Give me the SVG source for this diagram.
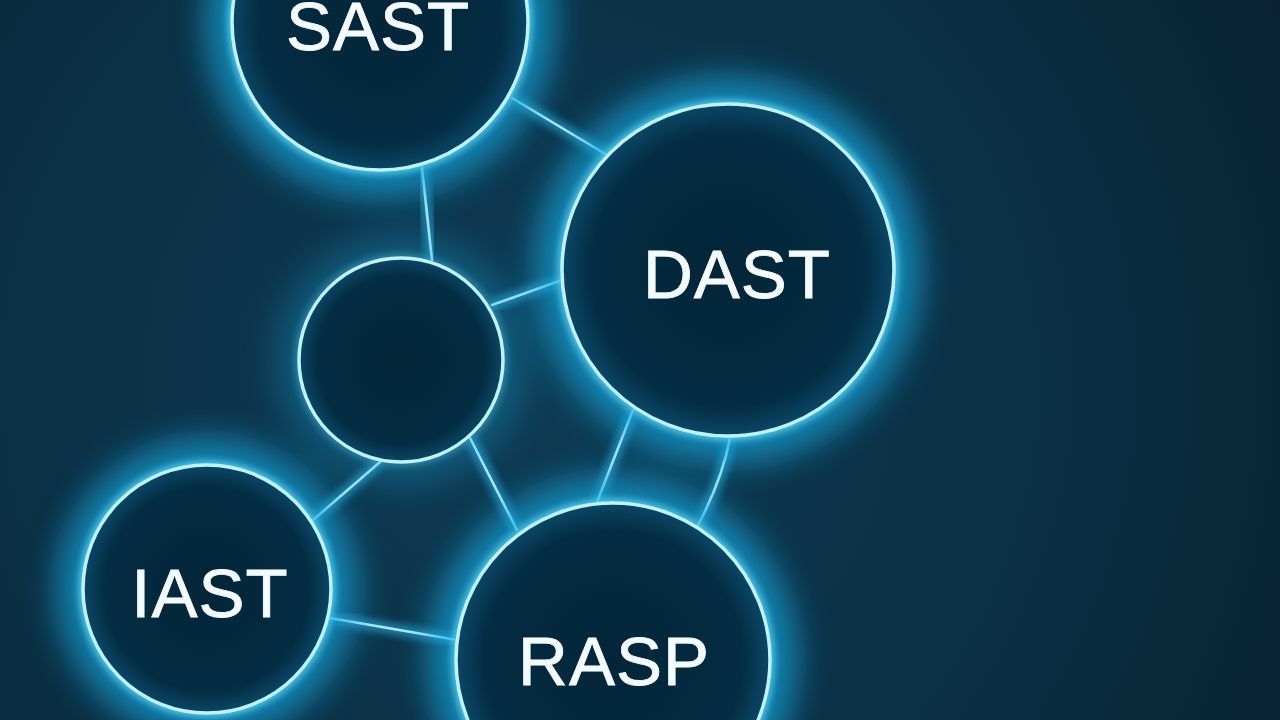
<svg xmlns="http://www.w3.org/2000/svg" width="1280" height="720" viewBox="0 0 1280 720">
<defs>
  <radialGradient id="bg" cx="520" cy="380" r="950" gradientUnits="userSpaceOnUse">
    <stop offset="0" stop-color="#0e3b53"/>
    <stop offset="0.6" stop-color="#0b2e42"/>
    <stop offset="1" stop-color="#081f2e"/>
  </radialGradient>
  <radialGradient id="fill" cx="0.5" cy="0.5" r="0.5">
    <stop offset="0" stop-color="#032538"/>
    <stop offset="0.82" stop-color="#042c42"/>
    <stop offset="1" stop-color="#0a4766"/>
  </radialGradient>
  <filter id="glow" x="-50%" y="-50%" width="200%" height="200%">
    <feGaussianBlur stdDeviation="18"/>
  </filter>
  <filter id="soft" x="-20%" y="-20%" width="140%" height="140%">
    <feGaussianBlur stdDeviation="3.5"/>
  </filter>
  <style>
    .halo{fill:none;stroke:#18a6dc;stroke-width:40;opacity:0.85;filter:url(#glow)}
    .halo2{fill:none;stroke:#55d2f5;stroke-width:9;opacity:0.9;filter:url(#soft)}
    .body{fill:url(#fill)}
    .ring{fill:none;stroke:#bff2ff;stroke-width:3.5}
    .lbl{font-family:"Liberation Sans",Arial,sans-serif;font-size:69px;fill:#f4fbff;stroke:#f4fbff;stroke-width:0.8;text-anchor:middle;letter-spacing:1px}
    .edge{stroke:#b0eaf8;stroke-width:2.6;fill:none;stroke-linecap:round}
    .edgeglow{stroke:#2bb4e6;stroke-width:12;fill:none;opacity:0.55;filter:url(#soft)}
  </style>
</defs>
<rect width="1280" height="720" fill="url(#bg)"/>

<g id="connectors">
  <g>
    <line class="edgeglow" x1="512" y1="98" x2="607" y2="155"/>
    <line class="edgeglow" x1="422" y1="168" x2="432" y2="260"/>
    <line class="edgeglow" x1="492" y1="305" x2="562" y2="280"/>
    <line class="edgeglow" x1="380" y1="462" x2="313" y2="520"/>
    <line class="edgeglow" x1="470" y1="438" x2="517" y2="530"/>
    <line class="edgeglow" x1="633" y1="410" x2="597" y2="502"/>
    <path class="edgeglow" d="M730 438 Q722 480 698 525"/>
    <line class="edgeglow" x1="330" y1="618" x2="457" y2="640"/>
  </g>
  <line class="edge" x1="512" y1="98" x2="607" y2="155"/>
  <line class="edge" x1="422" y1="168" x2="432" y2="260"/>
  <line class="edge" x1="492" y1="305" x2="562" y2="280"/>
  <line class="edge" x1="380" y1="462" x2="313" y2="520"/>
  <line class="edge" x1="470" y1="438" x2="517" y2="530"/>
  <line class="edge" x1="633" y1="410" x2="597" y2="502"/>
  <path class="edge" d="M730 438 Q722 480 698 525"/>
  <line class="edge" x1="330" y1="618" x2="457" y2="640"/>
</g>

<g id="glows">
  <circle class="halo" cx="380" cy="22" r="152"/>
  <circle class="halo" cx="728" cy="270" r="170"/>
  <circle class="halo" cx="207" cy="589" r="127"/>
  <circle class="halo" cx="613" cy="660" r="161"/>
  <circle class="halo" cx="401" cy="360" r="104" style="opacity:0.35"/>
</g>

<g id="sast">
  <circle class="halo2" cx="380" cy="22" r="148"/>
  <circle class="body" cx="380" cy="22" r="148"/>
  <circle class="ring" cx="380" cy="22" r="148"/>
  <text class="lbl" x="378" y="50">SAST</text>
</g>

<g id="dast">
  <circle class="halo2" cx="728" cy="270" r="166"/>
  <circle class="body" cx="728" cy="270" r="166"/>
  <circle class="ring" cx="728" cy="270" r="166"/>
  <text class="lbl" x="737" y="298">DAST</text>
</g>

<g id="center">
  <circle class="halo2" cx="401" cy="360" r="102" style="opacity:0.4"/>
  <circle class="body" cx="401" cy="360" r="102"/>
  <circle class="ring" cx="401" cy="360" r="102"/>
</g>

<g id="iast">
  <circle class="halo2" cx="207" cy="589" r="124"/>
  <circle class="body" cx="207" cy="589" r="124"/>
  <circle class="ring" cx="207" cy="589" r="124"/>
  <text class="lbl" x="210" y="617">IAST</text>
</g>

<g id="rasp">
  <circle class="halo2" cx="613" cy="660" r="157"/>
  <circle class="body" cx="613" cy="660" r="157"/>
  <circle class="ring" cx="613" cy="660" r="157"/>
  <text class="lbl" x="614" y="685">RASP</text>
</g>
</svg>
